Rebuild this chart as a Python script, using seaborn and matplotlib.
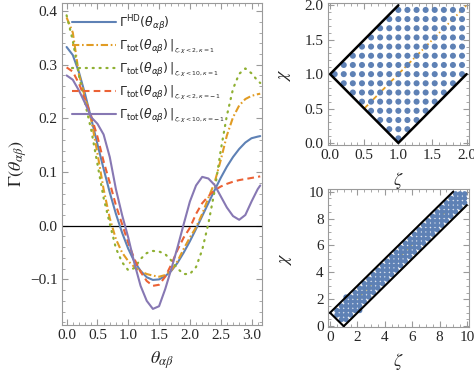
#!/usr/bin/env python3
"""Overlap reduction curves and the (zeta, chi) sampling regions."""

import numpy as np
import matplotlib
matplotlib.use("Agg")
import matplotlib.pyplot as plt
from matplotlib.font_manager import FontProperties
from matplotlib.lines import Line2D
from matplotlib.ticker import MultipleLocator
import seaborn as sns

# ---- data ------------------------------------------------------------------
theta = [0.0, 0.1, 0.2, 0.3, 0.4, 0.5, 0.6, 0.7, 0.8, 0.9, 1.0, 1.1, 1.2, 1.3, 1.4, 1.5, 1.6,
         1.7, 1.8, 1.9, 2.0, 2.1, 2.2, 2.3, 2.4, 2.5, 2.6, 2.7, 2.8, 2.9, 3.0, 3.1, 3.1416]

gamma_hd = [0.333, 0.318, 0.286, 0.245, 0.199, 0.152, 0.106, 0.062, 0.022, -0.013, -0.043,
            -0.067, -0.084, -0.096, -0.101, -0.100, -0.094, -0.084, -0.069, -0.050, -0.029,
            -0.006, 0.018, 0.042, 0.066, 0.089, 0.110, 0.128, 0.143, 0.155, 0.163, 0.166, 0.167]
gamma_2_pos = [0.388, 0.360, 0.282, 0.238, 0.197, 0.135, 0.068, 0.014, -0.025, -0.050, -0.066,
               -0.077, -0.085, -0.090, -0.093, -0.095, -0.092, -0.083, -0.066, -0.043, -0.022,
               -0.003, 0.022, 0.052, 0.080, 0.122, 0.168, 0.202, 0.224, 0.236, 0.242, 0.245, 0.246]
gamma_10_pos = [0.392, 0.345, 0.280, 0.228, 0.178, 0.115, 0.052, 0.004, -0.042, -0.068, -0.083,
                -0.079, -0.062, -0.051, -0.047, -0.048, -0.053, -0.065, -0.080, -0.090, -0.090,
                -0.077, -0.045, 0.004, 0.064, 0.140, 0.205, 0.255, 0.283, 0.293, 0.284, 0.270, 0.266]
gamma_2_neg = [0.295, 0.287, 0.265, 0.236, 0.204, 0.166, 0.120, 0.080, 0.038, 0.003, -0.032,
               -0.062, -0.086, -0.103, -0.112, -0.110, -0.095, -0.072, -0.045, -0.022, -0.004,
               0.022, 0.042, 0.055, 0.066, 0.073, 0.078, 0.082, 0.085, 0.087, 0.089, 0.091, 0.092]
gamma_10_neg = [0.280, 0.272, 0.252, 0.228, 0.202, 0.190, 0.170, 0.128, 0.068, 0.020, -0.022,
                -0.070, -0.112, -0.140, -0.155, -0.150, -0.118, -0.080, -0.040, 0.003, 0.045,
                0.075, 0.091, 0.088, 0.076, 0.055, 0.034, 0.018, 0.011, 0.020, 0.045, 0.068, 0.075]

# sampling lattices (bin midpoints) for the two regions
grid_small = [0.067, 0.2, 0.333, 0.467, 0.6, 0.733, 0.867, 1.0, 1.133, 1.267, 1.4, 1.533,
              1.667, 1.8, 1.933]
grid_large = [0.167, 0.5, 0.833, 1.167, 1.5, 1.833, 2.167, 2.5, 2.833, 3.167, 3.5, 3.833,
              4.167, 4.5, 4.833, 5.167, 5.5, 5.833, 6.167, 6.5, 6.833, 7.167, 7.5, 7.833,
              8.167, 8.5, 8.833, 9.167, 9.5, 9.833]

# region boundaries
edge_small_x = [1, 0, 1, 2]
edge_small_y = [2, 1, 0, 1]
edge_large_x = [[0, 9], [0, 1], [1, 10]]
edge_large_y = [[1, 10], [1, 0], [0, 9]]
diag_small = [0.5, 2.0]
diag_large = [1.95, 8.5]

labels = [
    r"$\Gamma^{\rm HD}(\theta_{\alpha\beta})$",
    r"$\Gamma_{\rm tot}(\theta_{\alpha\beta})\,|_{{}_{\zeta,\chi<2,\kappa=1}}$",
    r"$\Gamma_{\rm tot}(\theta_{\alpha\beta})\,|_{{}_{\zeta,\chi<10,\kappa=1}}$",
    r"$\Gamma_{\rm tot}(\theta_{\alpha\beta})\,|_{{}_{\zeta,\chi<2,\kappa=-1}}$",
    r"$\Gamma_{\rm tot}(\theta_{\alpha\beta})\,|_{{}_{\zeta,\chi<10,\kappa=-1}}$",
]

BLUE, ORANGE, GREEN, RED, PURPLE = "#5E81B5", "#E19C24", "#8FB032", "#EB6235", "#8778B3"
FRAME = "#9a9a9a"


def lattice(grid):
    zz, cc = np.meshgrid(grid, grid)
    zz, cc = zz.ravel(), cc.ravel()
    keep = (np.abs(zz - cc) < 1) & (zz + cc > 1)
    return zz[keep], cc[keep]


def style_frame(ax, major_x, minor_x, major_y, minor_y):
    ax.xaxis.set_major_locator(MultipleLocator(major_x))
    ax.xaxis.set_minor_locator(MultipleLocator(minor_x))
    ax.yaxis.set_major_locator(MultipleLocator(major_y))
    ax.yaxis.set_minor_locator(MultipleLocator(minor_y))
    ax.tick_params(which="both", direction="in", top=True, right=True, color=FRAME,
                   labelsize=11, pad=3)
    ax.tick_params(which="major", length=4, width=0.8)
    ax.tick_params(which="minor", length=2, width=0.6)
    for spine in ax.spines.values():
        spine.set_color(FRAME)
        spine.set_linewidth(0.8)
    for lab in ax.get_xticklabels() + ax.get_yticklabels():
        lab.set_fontfamily("Liberation Serif")


sns.set_theme(style="ticks")
plt.rcParams["font.family"] = ["Liberation Serif", "DejaVu Sans"]
plt.rcParams["mathtext.fontset"] = "stix"

fig = plt.figure(figsize=(4.74, 3.74), dpi=100)
ax = fig.add_axes([0.1308, 0.131, 0.4219, 0.861])
ax_top = fig.add_axes([0.6914, 0.6123, 0.298, 0.379])
ax_bot = fig.add_axes([0.6914, 0.1249, 0.298, 0.370])

# ---- left: correlation curves -----------------------------------------------
ax.axhline(0, color="black", lw=0.9, zorder=1)
curves = [
    (gamma_hd, BLUE, "-", 1.5),
    (gamma_2_pos, ORANGE, (0, (3.5, 1.3, 0.8, 1.3)), 1.5),
    (gamma_10_pos, GREEN, (0, (0.5, 2.6)), 1.6),
    (gamma_2_neg, RED, (0, (3.2, 2.0)), 1.5),
    (gamma_10_neg, PURPLE, "-", 1.5),
]
handles = []
for vals, col, ls, lw in curves:
    cap = "round" if col == GREEN else "butt"
    sns.lineplot(x=theta, y=vals, ax=ax, color=col, linestyle=ls, linewidth=lw,
                 dash_capstyle=cap, zorder=3)
    handles.append(Line2D([], [], color=col, linestyle=ls, linewidth=lw, dash_capstyle=cap))

ax.set_xlim(-0.075, 3.17)
ax.set_ylim(-0.185, 0.415)
style_frame(ax, 0.5, 0.1, 0.1, 0.02)
ax.set_xlabel(r"$\theta_{\alpha\beta}$", fontsize=13, labelpad=5)
ax.set_ylabel(r"$\Gamma(\theta_{\alpha\beta})$", fontsize=13, labelpad=1)

leg_font = FontProperties(family="DejaVu Sans", size=9, math_fontfamily="dejavusans")
leg = ax.legend(handles, labels, loc="upper left", bbox_to_anchor=(0.0, 1.0),
                frameon=False, prop=leg_font, handlelength=3.5, handletextpad=0.3,
                labelspacing=0.38, borderpad=0.3)

# ---- top right: small region --------------------------------------------------
zs, cs = lattice(grid_small)
ax_top.plot(diag_small, diag_small, color=ORANGE, lw=1.3, linestyle=(0, (3, 1.5, 0.8, 1.5)),
            zorder=1)
sns.scatterplot(x=zs, y=cs, ax=ax_top, s=19, color=BLUE, edgecolor="none", linewidth=0,
                zorder=2)
ax_top.plot(edge_small_x, edge_small_y, color="black", lw=1.8, zorder=3)
ax_top.set_xlim(-0.035, 2.035)
ax_top.set_ylim(-0.03, 2.03)
style_frame(ax_top, 0.5, 0.1, 0.5, 0.1)
ax_top.set_xlabel(r"$\zeta$", fontsize=13, labelpad=6)
ax_top.set_ylabel(r"$\chi$", fontsize=13, labelpad=8)

# ---- bottom right: large region -----------------------------------------------
zl, cl = lattice(grid_large)
ax_bot.plot([diag_large[0], diag_large[1]], [diag_large[0] + 0.1, diag_large[1] + 0.1],
            color="#C9B43A", lw=1.6, linestyle=(0, (9, 18)), zorder=1)
sns.scatterplot(x=zl, y=cl, ax=ax_bot, s=15, color=BLUE, edgecolor="none", linewidth=0,
                zorder=2)
for ex, ey in zip(edge_large_x, edge_large_y):
    ax_bot.plot(ex, ey, color="black", lw=1.5, zorder=3)
ax_bot.set_xlim(-0.17, 10.15)
ax_bot.set_ylim(-0.08, 10.2)
style_frame(ax_bot, 2, 0.5, 2, 0.5)
ax_bot.set_xlabel(r"$\zeta$", fontsize=13, labelpad=5)
ax_bot.set_ylabel(r"$\chi$", fontsize=13, labelpad=10)

fig.savefig("out.png", dpi=100)
